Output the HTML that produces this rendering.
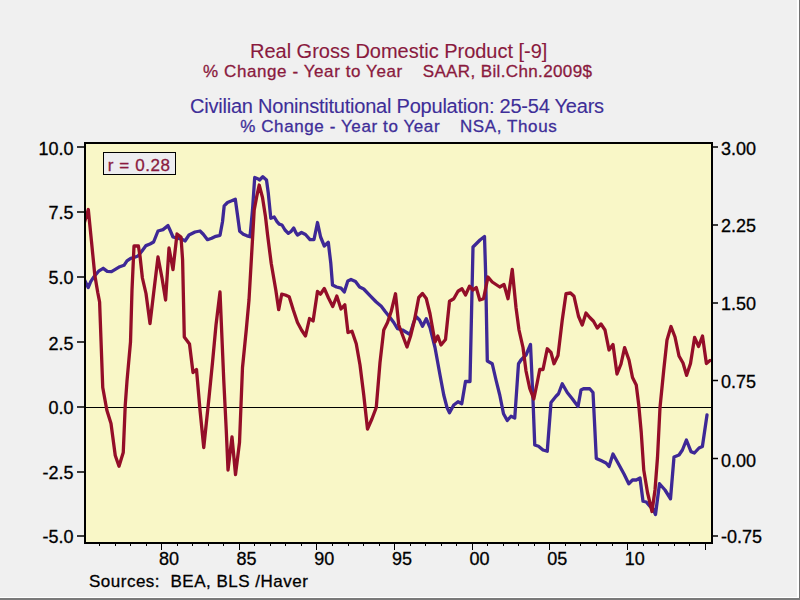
<!DOCTYPE html>
<html><head><meta charset="utf-8"><title>Real GDP vs Civilian Population 25-54</title>
<style>
html,body{margin:0;padding:0;background:#f0f0f0;}
svg{display:block;}
text{font-family:"Liberation Sans",Arial,sans-serif;white-space:pre;stroke:currentColor;stroke-width:0.3px;}
</style></head>
<body>
<svg width="800" height="600" viewBox="0 0 800 600">
<rect x="0" y="0" width="800" height="600" fill="#f0f0f0"/>
<text x="250" y="57.5" style="stroke-width:0.12px" font-size="20" fill="#8a1a3e" color="#8a1a3e" textLength="297.4" lengthAdjust="spacing">Real Gross Domestic Product [-9]</text>
<text x="203" y="76.8" font-size="17" fill="#8a1a3e" color="#8a1a3e" textLength="199.2" lengthAdjust="spacing">% Change - Year to Year</text>
<text x="422.7" y="76.8" font-size="17" fill="#8a1a3e" color="#8a1a3e" textLength="169.3" lengthAdjust="spacing">SAAR, Bil.Chn.2009$</text>
<text x="190" y="112.7" style="stroke-width:0.12px" font-size="20" fill="#3e2e98" color="#3e2e98" textLength="414.1" lengthAdjust="spacing">Civilian Noninstitutional Population: 25-54 Years</text>
<text x="240.2" y="131.5" font-size="17" fill="#3e2e98" color="#3e2e98" textLength="199.4" lengthAdjust="spacing">% Change - Year to Year</text>
<text x="460" y="131.5" font-size="17" fill="#3e2e98" color="#3e2e98" textLength="96.7" lengthAdjust="spacing">NSA, Thous</text>
<rect x="85" y="143" width="627" height="400" fill="#f9f7c7" stroke="#000" stroke-width="2"/>
<line x1="86" y1="407.5" x2="711" y2="407.5" stroke="#000" stroke-width="1.2"/>
<rect x="103.5" y="152.5" width="72" height="22" fill="#ededf0" stroke="#000" stroke-width="1"/>
<text x="107.8" y="170.8" font-size="17" fill="#8a1a3e" color="#8a1a3e" textLength="62.2" lengthAdjust="spacing">r = 0.28</text>
<svg x="86" y="144" width="625" height="398" viewBox="86 144 625 398" overflow="hidden">
<polyline points="84,279 86.5,284 88.2,287.5 90.7,281.7 94,276.7 99,270.8 103.2,268.3 107.3,271.3 111.5,271.7 115.7,269.2 119.8,266.7 124,265.3 127,260.8 130.7,258.3 134,257.5 138,256 142,251 146,245.6 150,244 153.6,242 158,231 163,229.6 168,225.6 170,230 173,237 178,238.4 182,239 185,241 189,235 195,232 200,231 203.3,234.2 207.5,239.7 211.7,238.3 215.8,236.3 220,235.3 222.5,221.7 224.2,205.8 227.5,202.5 231.7,200.8 235.3,199.2 237.5,215 239.7,231.3 243.3,234.2 247,235.8 250,236.7 252.5,210 254.7,177.5 257.8,178.7 259.5,180 262.8,176.8 266.5,180 268.3,193.3 270.8,218.3 274.2,217 277,221.7 279.2,224.2 282,225 285,230 288.3,233.3 290.8,231.7 293.7,228 295.8,232.5 297.5,235 301.5,232.5 305.5,234.5 310,239.6 314,239.5 317.5,222.5 320.6,237 324.3,246 328.3,242.3 330.8,263.3 332.5,285 336.5,287 341,288.2 344.3,292 347.8,281 351,279.5 355.5,281.5 359.6,287 363.75,289 370,295.6 376.25,302 381.25,306.25 385,311.25 390,317.5 393.75,322.5 397.5,328.75 402.5,330 410,334.5 413.5,323 416,316.5 419.5,320 422.5,326.25 426.25,318.75 430,327.5 435,347.5 440,375 443.75,395 447,407.5 449.5,412.8 453.75,405 458,401.75 461.75,403.75 465.5,381.5 470,381.5 473,247 476.5,243.5 480,240 484.5,236.5 485.6,272 487.3,361 492.25,363.75 496,380 499.75,395 503.5,413.75 507.25,420.5 511,416.25 514.75,418 518.5,363.75 521,360 526,355 530.5,344.5 533,400 534.75,445 538.5,446.25 543,450 547.25,451.25 551,402.5 556,396.25 558.5,393.75 562.25,383.75 567.25,392.5 572.25,398.75 578,406.5 581,390 583.5,388.75 589.75,388.75 593,392.5 594.4,420 596.3,458.5 601,460.6 606,463 609,466.4 613,454 618,463 624,474 628.75,483.75 632.5,480 636.25,480 640,478 643,501.25 646.25,502 650.5,507 653,508.75 655.5,514.5 659.5,483.75 665,490 670.5,498.75 674,457 679,455 682.4,450 686.4,440 691,451.6 694.4,453 699,448 702.4,446.4 707,415" fill="none" stroke="#3e2896" stroke-width="3.3" stroke-linejoin="round" stroke-linecap="round"/>
<polyline points="84,224 86.5,215.5 88.3,209.5 91.5,241.7 94.8,275 97.75,292.5 99.6,302 102.75,387.5 106.8,410 111,423.5 115.25,455.5 119,466.25 123.25,452.5 125.25,405 127,381 130.5,342 132,290 134,246 138.4,246 140,256 142.4,278 146,293.5 150,323.6 154,290 158,257 162,278 165.6,300 169,248 173,269.6 177,234 181,237 182.6,260 184.3,337 189.5,344 193,372.5 196.5,369.5 200,410 203.75,447.5 208.75,400 212.5,362.5 216,325 220,292 223.75,380 226.25,430 228,470 232,437 235.5,474.5 239.5,442.5 242.5,367.5 246.25,330 249,300 254.2,210 256.7,196.7 259.2,185 262.5,197.5 265.5,216.7 267.6,235 271.2,263.3 275.8,290 278.7,309.7 281.7,294.2 285.3,295 289.2,296.7 293.3,310 297.5,322.5 301.5,330 305.5,336 309.5,318.5 313.1,321 317.5,291.3 320.4,294.2 324.3,288.5 328.5,298 332.75,306.5 336.8,296 341,309 344.8,304.8 348,332.5 352,331.25 356.25,343.75 360,365 363.75,395 367.5,429 372,418.75 376.25,407.5 380,362.5 383.75,330 387.5,322.5 391.25,311.25 395.5,293.75 398.75,325 402.5,335 407,347 410.5,336.25 414.5,320 418.75,297.5 422.5,293.5 426.25,298.5 430,313.75 435,342 437.8,336 441,345 445.5,339.5 449.5,301.25 453.75,298.75 458,291.25 462,288.75 465.5,295 469.5,286.25 473,290 476.25,287.5 479.75,300 483.5,298.75 488,277 492.25,282 496,284.5 499.75,287 504,284.5 508,298.75 512.25,269.5 516,307.5 519,330 523,347.5 526,371 529.75,388.5 533.8,399 537.25,382.5 539.75,369.5 543,369.5 547.25,348.75 551,352.5 554,363.75 558,355.5 562.25,320 566,293.75 570.5,293 574,296.25 578.5,316.25 582.25,325 586,313 589.75,317.5 593.5,321.25 597.25,328 601,324 605,330 609,350 613,344.5 617,374 621,364 624.6,347.6 629,360 632.5,377.5 636.25,385 638.75,405 641.25,432.5 643.75,470 647.5,492.5 652,511.5 655,490 657.5,457.5 660,407.5 663.75,370 667,340 671,326.5 675,337 679,356 683,363 686.6,375.3 690.5,363.5 694.6,337.5 698.6,346.5 702.5,336 706.4,363.5 710,360.5" fill="none" stroke="#940e28" stroke-width="3.3" stroke-linejoin="round" stroke-linecap="round"/>
</svg>
<g stroke="#000" stroke-width="1.5"><line x1="77" y1="147" x2="84" y2="147"/><line x1="77" y1="212" x2="84" y2="212"/><line x1="77" y1="277" x2="84" y2="277"/><line x1="77" y1="342" x2="84" y2="342"/><line x1="77" y1="407" x2="84" y2="407"/><line x1="77" y1="472" x2="84" y2="472"/><line x1="77" y1="536" x2="84" y2="536"/><line x1="713" y1="147" x2="718" y2="147"/><line x1="713" y1="225" x2="718" y2="225"/><line x1="713" y1="303" x2="718" y2="303"/><line x1="713" y1="380.5" x2="718" y2="380.5"/><line x1="713" y1="458.5" x2="718" y2="458.5"/><line x1="713" y1="536" x2="718" y2="536"/></g>
<g stroke="#000" stroke-width="1"><line x1="99.5" y1="544" x2="99.5" y2="546"/><line x1="115.5" y1="544" x2="115.5" y2="546"/><line x1="130.5" y1="544" x2="130.5" y2="546"/><line x1="146.5" y1="544" x2="146.5" y2="546"/><line x1="161.5" y1="544" x2="161.5" y2="550"/><line x1="177.5" y1="544" x2="177.5" y2="546"/><line x1="192.5" y1="544" x2="192.5" y2="546"/><line x1="208.5" y1="544" x2="208.5" y2="546"/><line x1="223.5" y1="544" x2="223.5" y2="546"/><line x1="239.5" y1="544" x2="239.5" y2="550"/><line x1="254.5" y1="544" x2="254.5" y2="546"/><line x1="270.5" y1="544" x2="270.5" y2="546"/><line x1="285.5" y1="544" x2="285.5" y2="546"/><line x1="301.5" y1="544" x2="301.5" y2="546"/><line x1="316.5" y1="544" x2="316.5" y2="550"/><line x1="332.5" y1="544" x2="332.5" y2="546"/><line x1="348.5" y1="544" x2="348.5" y2="546"/><line x1="363.5" y1="544" x2="363.5" y2="546"/><line x1="379.5" y1="544" x2="379.5" y2="546"/><line x1="394.5" y1="544" x2="394.5" y2="550"/><line x1="410.5" y1="544" x2="410.5" y2="546"/><line x1="425.5" y1="544" x2="425.5" y2="546"/><line x1="441.5" y1="544" x2="441.5" y2="546"/><line x1="456.5" y1="544" x2="456.5" y2="546"/><line x1="472.5" y1="544" x2="472.5" y2="550"/><line x1="487.5" y1="544" x2="487.5" y2="546"/><line x1="503.5" y1="544" x2="503.5" y2="546"/><line x1="518.5" y1="544" x2="518.5" y2="546"/><line x1="534.5" y1="544" x2="534.5" y2="546"/><line x1="549.5" y1="544" x2="549.5" y2="550"/><line x1="565.5" y1="544" x2="565.5" y2="546"/><line x1="580.5" y1="544" x2="580.5" y2="546"/><line x1="596.5" y1="544" x2="596.5" y2="546"/><line x1="612.5" y1="544" x2="612.5" y2="546"/><line x1="627.5" y1="544" x2="627.5" y2="550"/><line x1="643.5" y1="544" x2="643.5" y2="546"/><line x1="658.5" y1="544" x2="658.5" y2="546"/><line x1="674.5" y1="544" x2="674.5" y2="546"/><line x1="689.5" y1="544" x2="689.5" y2="546"/><line x1="705.5" y1="544" x2="705.5" y2="550"/></g>
<g font-size="18" fill="#000" color="#000"><text x="73.5" y="155" text-anchor="end">10.0</text><text x="73.5" y="219" text-anchor="end">7.5</text><text x="73.5" y="284" text-anchor="end">5.0</text><text x="73.5" y="350" text-anchor="end">2.5</text><text x="73.5" y="414" text-anchor="end">0.0</text><text x="73.5" y="479" text-anchor="end">-2.5</text><text x="73.5" y="543" text-anchor="end">-5.0</text><text x="721" y="155">3.00</text><text x="721" y="232">2.25</text><text x="721" y="310">1.50</text><text x="721" y="388">0.75</text><text x="721" y="467">0.00</text><text x="721" y="543">-0.75</text><text x="168.9" y="565" text-anchor="middle">80</text><text x="246.6" y="565" text-anchor="middle">85</text><text x="324.2" y="565" text-anchor="middle">90</text><text x="401.9" y="565" text-anchor="middle">95</text><text x="479.5" y="565" text-anchor="middle">00</text><text x="557.2" y="565" text-anchor="middle">05</text><text x="634.8" y="565" text-anchor="middle">10</text></g>
<text x="89" y="586.5" font-size="17" fill="#000" color="#000" textLength="218.9" lengthAdjust="spacing">Sources:  BEA, BLS /Haver</text>
<rect x="797" y="0" width="2" height="598" fill="#fff"/>
<line x1="0" y1="597.5" x2="799" y2="597.5" stroke="#fff" stroke-width="1"/>
<rect x="799" y="0" width="1" height="600" fill="#727272"/>
<rect x="0" y="598" width="800" height="2" fill="#7a7a7a"/>
</svg>
</body></html>
